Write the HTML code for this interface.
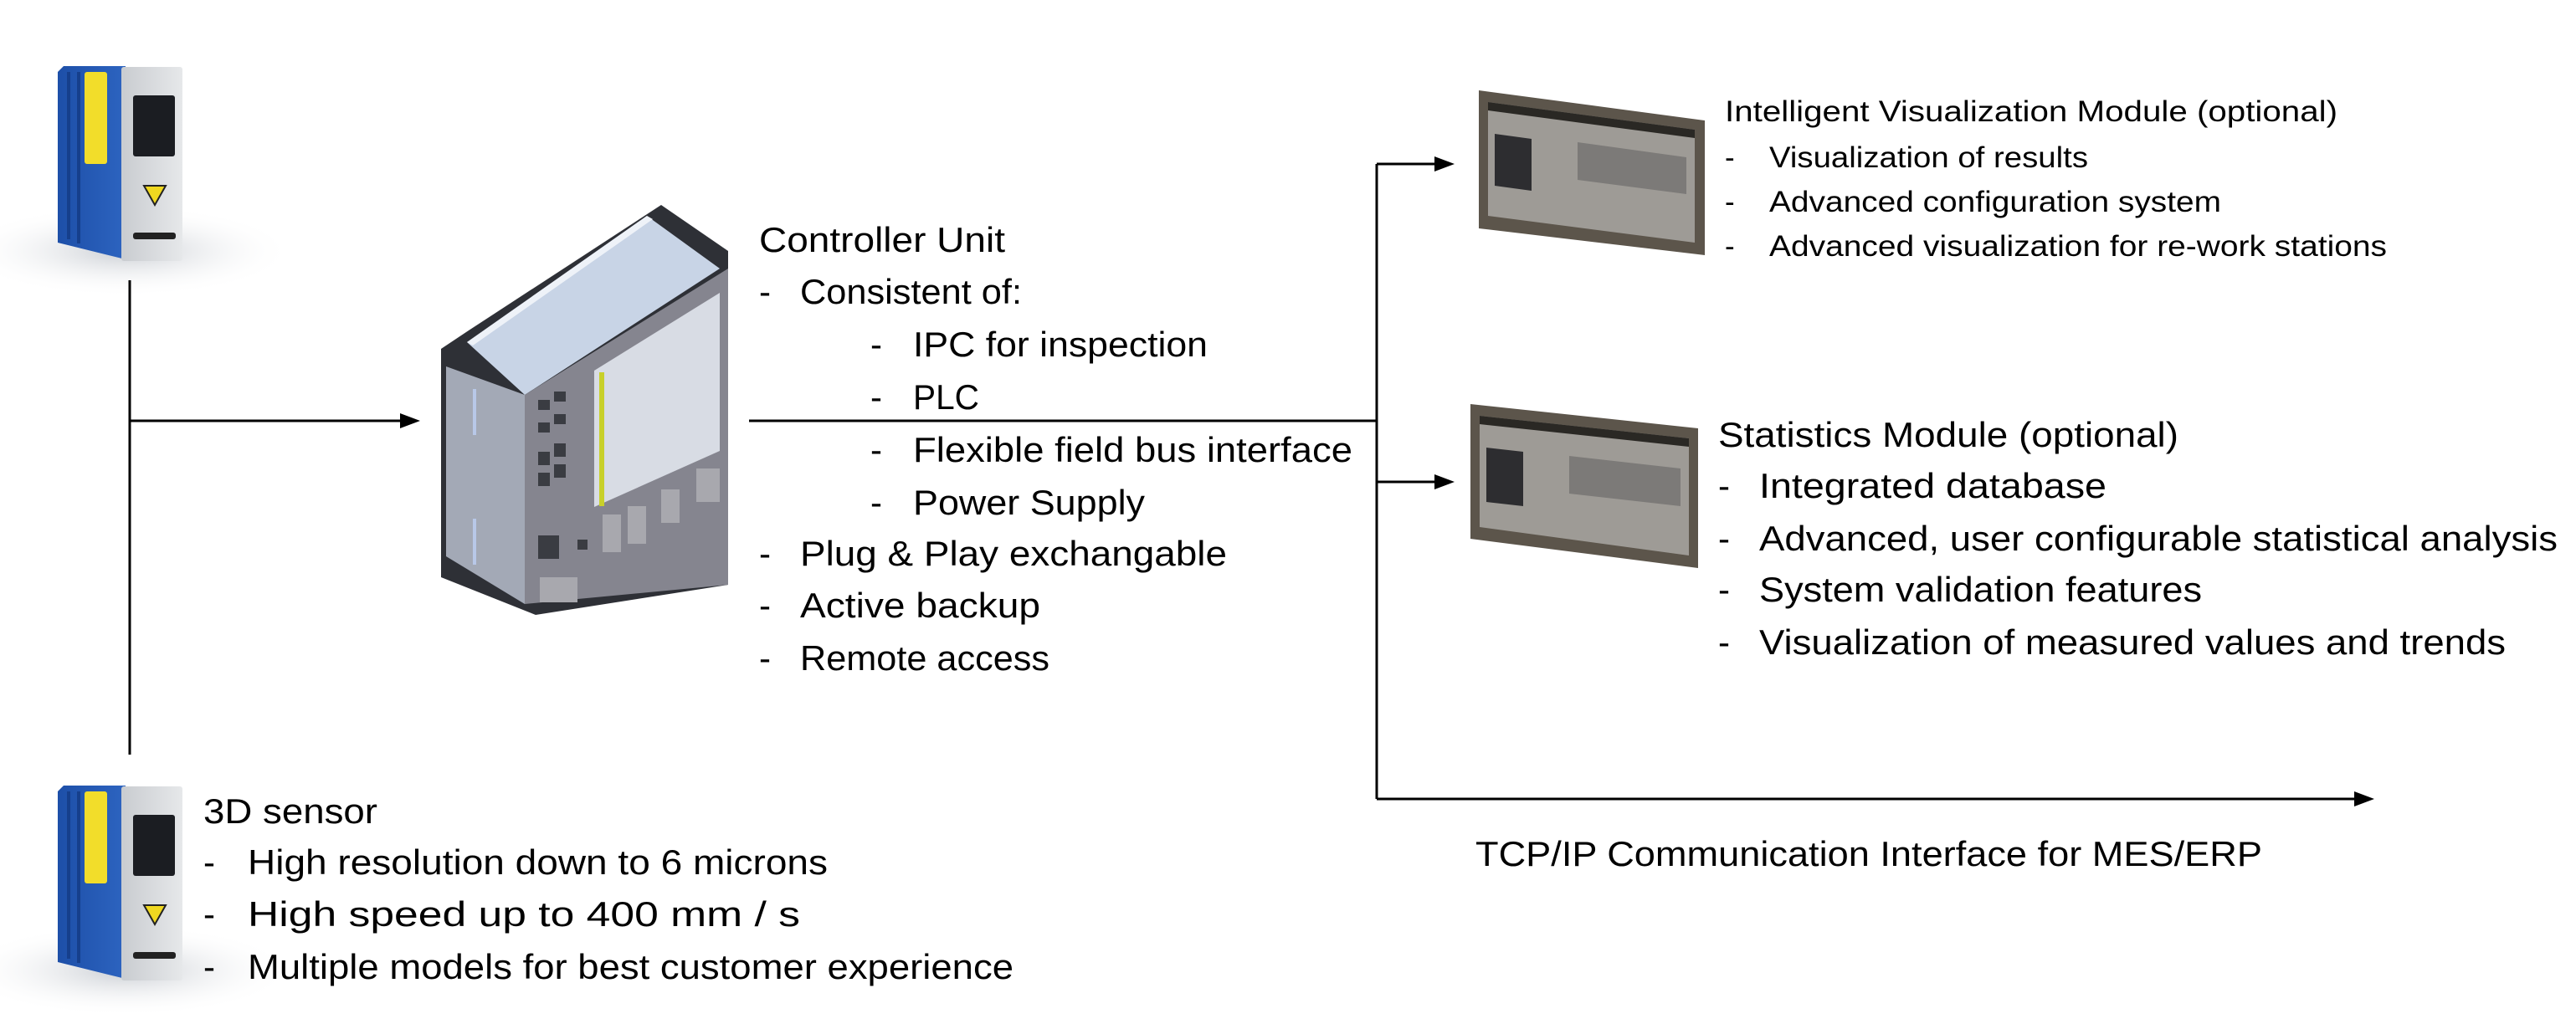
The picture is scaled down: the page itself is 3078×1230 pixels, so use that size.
<!DOCTYPE html>
<html><head><meta charset="utf-8"><style>
html,body{margin:0;padding:0;background:#fff;}
svg{display:block;}
text{font-family:"Liberation Sans",sans-serif;fill:#000;}
</style></head><body>
<svg width="3078" height="1230" viewBox="0 0 3078 1230" xmlns="http://www.w3.org/2000/svg">
<defs>
<radialGradient id="sh" cx="50%" cy="50%" r="50%"><stop offset="0" stop-color="#c8ccd2"/><stop offset="1" stop-color="#fff" stop-opacity="0"/></radialGradient>
<linearGradient id="blue" x1="0" x2="1"><stop offset="0" stop-color="#1d4fa8"/><stop offset="1" stop-color="#2d64c0"/></linearGradient>
<linearGradient id="silver" x1="0" x2="1"><stop offset="0" stop-color="#c9ccd0"/><stop offset="1" stop-color="#e6e8ea"/></linearGradient>
<g id="sensor">
<ellipse cx="150" cy="300" rx="200" ry="55" fill="url(#sh)"/>
<polygon points="69,86 76,79 150,79 150,310 69,290" fill="url(#blue)"/>
<rect x="80" y="86" width="4" height="200" fill="#163f8c"/>
<rect x="92" y="86" width="4" height="205" fill="#163f8c"/>
<rect x="101" y="86" width="27" height="110" rx="3" fill="#f2dd2a"/>
<rect x="145" y="80" width="73" height="232" rx="3" fill="url(#silver)"/>
<rect x="159" y="114" width="50" height="73" rx="3" fill="#1b1d22"/>
<polygon points="172,222 198,222 185,245" fill="#f0d820" stroke="#222" stroke-width="2"/>
<rect x="159" y="278" width="51" height="8" rx="3" fill="#222"/>
</g>
</defs>

<!-- sensors -->
<use href="#sensor"/>
<use href="#sensor" transform="translate(0,860)"/>

<!-- left connectors -->
<line x1="155" y1="335" x2="155" y2="902" stroke="#000" stroke-width="3"/>
<line x1="155" y1="503" x2="478" y2="503" stroke="#000" stroke-width="3"/>
<polygon points="478,494 502,503 478,512" fill="#000"/>

<!-- controller -->
<polygon points="527,417 560,395 790,245 870,300 870,699 640,735 527,690" fill="#2e3036"/>
<polygon points="558,409 773,258 860,321 627,472" fill="#c8d4e6"/>
<polygon points="558,409 773,258 780,262 565,413" fill="#eef2f8"/>
<polygon points="533,438 627,472 627,722 533,665" fill="#a3a9b6"/>
<polygon points="627,472 870,321 870,699 627,722" fill="#85858f"/>
<polygon points="710,443 860,350 860,539 710,606" fill="#d8dce4"/>
<rect x="716" y="445" width="6" height="160" fill="#c8d02a"/>
<rect x="565" y="465" width="4" height="55" fill="#b8c8e8"/>
<rect x="565" y="620" width="4" height="55" fill="#b8c8e8"/>
<g fill="#3a3c42">
<rect x="643" y="478" width="14" height="12"/><rect x="662" y="468" width="14" height="12"/>
<rect x="643" y="505" width="14" height="12"/><rect x="662" y="495" width="14" height="12"/>
<rect x="643" y="540" width="14" height="16"/><rect x="662" y="530" width="14" height="16"/>
<rect x="643" y="565" width="14" height="16"/><rect x="662" y="555" width="14" height="16"/>
<rect x="643" y="640" width="25" height="28"/>
<rect x="690" y="645" width="12" height="12"/>
</g>
<g fill="#a8a8ae">
<rect x="720" y="615" width="22" height="45"/><rect x="750" y="605" width="22" height="45"/>
<rect x="790" y="585" width="22" height="40"/><rect x="832" y="560" width="28" height="40"/>
<rect x="645" y="690" width="45" height="30"/>
</g>

<!-- controller to right -->
<line x1="895" y1="503" x2="1645" y2="503" stroke="#000" stroke-width="3"/>
<line x1="1645" y1="196" x2="1645" y2="955" stroke="#000" stroke-width="3"/>
<line x1="1645" y1="196" x2="1716" y2="196" stroke="#000" stroke-width="3"/>
<polygon points="1714,187 1738,196 1714,205" fill="#000"/>
<line x1="1645" y1="576" x2="1716" y2="576" stroke="#000" stroke-width="3"/>
<polygon points="1714,567 1738,576 1714,585" fill="#000"/>
<line x1="1645" y1="955" x2="2815" y2="955" stroke="#000" stroke-width="3"/>
<polygon points="2813,946 2837,955 2813,964" fill="#000"/>

<!-- monitors -->
<polygon points="1767,108 2037,144 2037,305 1767,273" fill="#5c554b"/>
<polygon points="1778,122 2025,155 2025,290 1778,258" fill="#9e9b96"/>
<polygon points="1778,122 2025,155 2025,165 1778,132" fill="#2a2824"/>
<polygon points="1786,160 1830,166 1830,228 1786,222" fill="#2d2d30"/>
<polygon points="1885,170 2015,188 2015,232 1885,215" fill="#7c7a78"/>
<polygon points="1757,483 2029,512 2029,679 1757,644" fill="#5c554b"/>
<polygon points="1768,497 2018,524 2018,664 1768,630" fill="#9e9b96"/>
<polygon points="1768,497 2018,524 2018,534 1768,507" fill="#2a2824"/>
<polygon points="1776,535 1820,540 1820,605 1776,600" fill="#2d2d30"/>
<polygon points="1875,545 2008,560 2008,605 1875,590" fill="#7c7a78"/>

<!-- texts: 3D sensor -->
<g font-size="42" lengthAdjust="spacingAndGlyphs">
<text x="243" y="984" textLength="208" lengthAdjust="spacingAndGlyphs">3D sensor</text>
<text x="243" y="1045">-</text><text x="296" y="1045" textLength="693" lengthAdjust="spacingAndGlyphs">High resolution down to 6 microns</text>
<text x="243" y="1107">-</text><text x="296" y="1107" textLength="660" lengthAdjust="spacingAndGlyphs">High speed up to 400 mm / s</text>
<text x="243" y="1170">-</text><text x="296" y="1170" textLength="915" lengthAdjust="spacingAndGlyphs">Multiple models for best customer experience</text>

<text x="907" y="301" textLength="294" lengthAdjust="spacingAndGlyphs">Controller Unit</text>
<text x="907" y="363">-</text><text x="956" y="363" textLength="265" lengthAdjust="spacingAndGlyphs">Consistent of:</text>
<text x="1040" y="426">-</text><text x="1091" y="426" textLength="352" lengthAdjust="spacingAndGlyphs">IPC for inspection</text>
<text x="1040" y="489">-</text><text x="1091" y="489" textLength="79" lengthAdjust="spacingAndGlyphs">PLC</text>
<text x="1040" y="552">-</text><text x="1091" y="552" textLength="525" lengthAdjust="spacingAndGlyphs">Flexible field bus interface</text>
<text x="1040" y="615">-</text><text x="1091" y="615" textLength="277" lengthAdjust="spacingAndGlyphs">Power Supply</text>
<text x="907" y="676">-</text><text x="956" y="676" textLength="510" lengthAdjust="spacingAndGlyphs">Plug &amp; Play exchangable</text>
<text x="907" y="738">-</text><text x="956" y="738" textLength="287" lengthAdjust="spacingAndGlyphs">Active backup</text>
<text x="907" y="801">-</text><text x="956" y="801" textLength="298" lengthAdjust="spacingAndGlyphs">Remote access</text>

<text x="2053" y="534" textLength="550" lengthAdjust="spacingAndGlyphs">Statistics Module (optional)</text>
<text x="2053" y="595">-</text><text x="2102" y="595" textLength="415" lengthAdjust="spacingAndGlyphs">Integrated database</text>
<text x="2053" y="658">-</text><text x="2102" y="658" textLength="954" lengthAdjust="spacingAndGlyphs">Advanced, user configurable statistical analysis</text>
<text x="2053" y="719">-</text><text x="2102" y="719" textLength="529" lengthAdjust="spacingAndGlyphs">System validation features</text>
<text x="2053" y="782">-</text><text x="2102" y="782" textLength="892" lengthAdjust="spacingAndGlyphs">Visualization of measured values and trends</text>

<text x="1763" y="1035" textLength="940" lengthAdjust="spacingAndGlyphs">TCP/IP Communication Interface for MES/ERP</text>
</g>
<g font-size="35">
<text x="2061" y="145" textLength="732" lengthAdjust="spacingAndGlyphs">Intelligent Visualization Module (optional)</text>
<text x="2061" y="200">-</text><text x="2114" y="200" textLength="381" lengthAdjust="spacingAndGlyphs">Visualization of results</text>
<text x="2061" y="253">-</text><text x="2114" y="253" textLength="540" lengthAdjust="spacingAndGlyphs">Advanced configuration system</text>
<text x="2061" y="306">-</text><text x="2114" y="306" textLength="738" lengthAdjust="spacingAndGlyphs">Advanced visualization for re-work stations</text>
</g>
</svg>
</body></html>
